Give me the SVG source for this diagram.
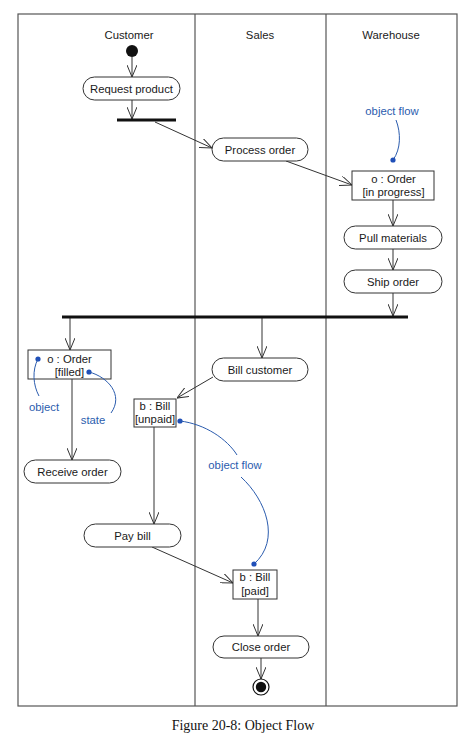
<svg xmlns="http://www.w3.org/2000/svg" width="474" height="745" viewBox="0 0 474 745">
<style>
text{font-family:"Liberation Sans",Arial,sans-serif;font-size:11.3px;fill:#1a1a1a;text-anchor:middle}
.note{fill:#2b5cae}
.cap{font-family:"Liberation Serif","Times New Roman",serif;font-size:14px;fill:#111}
.act{fill:#fff;stroke:#333;stroke-width:1}
.obj{fill:#fff;stroke:#333;stroke-width:1}
.edge{stroke:#333;stroke-width:1;fill:none;marker-end:url(#arr)}
.lane{stroke:#555;stroke-width:1.2;fill:none}
.bar{fill:#111}
.blue{stroke:#2b5cae;stroke-width:1;fill:none}
.dot{fill:#1f4fb8}
</style>
<defs>
<marker id="arr" viewBox="0 0 12 10" refX="12" refY="5" markerWidth="12" markerHeight="10" markerUnits="userSpaceOnUse" orient="auto">
<path d="M0,0 L12,5 L0,10" fill="none" stroke="#333" stroke-width="1"/>
</marker>
</defs>
<rect width="474" height="745" fill="#fff"/>
<g id="swimlanes">
<rect class="lane" x="18" y="14" width="439" height="692"/>
<line class="lane" x1="195" y1="14" x2="195" y2="706"/>
<line class="lane" x1="326" y1="14" x2="326" y2="706"/>
<text x="129" y="39">Customer</text>
<text x="260" y="39">Sales</text>
<text x="391" y="39">Warehouse</text>
</g>
<g id="connectors">
<line class="edge" x1="132" y1="57" x2="132" y2="77"/>
<line class="edge" x1="132" y1="100" x2="132" y2="119"/>
<line class="edge" x1="155" y1="122" x2="212" y2="148"/>
<line class="edge" x1="286" y1="161" x2="352" y2="185"/>
<line class="edge" x1="393" y1="200" x2="393" y2="226"/>
<line class="edge" x1="393" y1="249" x2="393" y2="270"/>
<line class="edge" x1="393" y1="293" x2="393" y2="316"/>
<line class="edge" x1="70" y1="318" x2="70" y2="350"/>
<line class="edge" x1="262" y1="318" x2="262" y2="358"/>
<line class="edge" x1="72" y1="379" x2="72" y2="460"/>
<line class="edge" x1="213" y1="377" x2="177" y2="398"/>
<line class="edge" x1="154" y1="427" x2="154" y2="524"/>
<line class="edge" x1="152" y1="547" x2="233" y2="583"/>
<line class="edge" x1="258" y1="599" x2="258" y2="636"/>
<line class="edge" x1="261" y1="658" x2="261" y2="679"/>
</g>
<g id="start"><circle cx="132" cy="51" r="6" fill="#111"/></g>
<g id="request-product"><rect class="act" x="83" y="77" width="97" height="23" rx="11.5"/><text x="131.5" y="92.5">Request product</text></g>
<g id="fork"><rect class="bar" x="117" y="118.5" width="59" height="3"/></g>
<g id="process-order"><rect class="act" x="212" y="138" width="96" height="23" rx="11.5"/><text x="260" y="153.5">Process order</text></g>
<g id="order-in-progress"><rect class="obj" x="352" y="171" width="82" height="29"/><text x="393.5" y="183">o : Order</text><text x="393.5" y="196">[in progress]</text></g>
<g id="note-object-flow-1"><text class="note" x="392" y="115">object flow</text><path class="blue" d="M396,120 C401,133 401,149 393,160"/><circle class="dot" cx="393" cy="160" r="2.6"/></g>
<g id="pull-materials"><rect class="act" x="344" y="226" width="98" height="23" rx="11.5"/><text x="393" y="241.5">Pull materials</text></g>
<g id="ship-order"><rect class="act" x="344" y="270" width="98" height="23" rx="11.5"/><text x="393" y="285.5">Ship order</text></g>
<g id="join"><rect class="bar" x="62" y="315.5" width="346" height="3"/></g>
<g id="order-filled"><rect class="obj" x="28" y="350" width="83" height="29"/><text x="69.5" y="363">o : Order</text><text x="69.5" y="376">[filled]</text>
<circle class="dot" cx="38" cy="359" r="2.6"/><circle class="dot" cx="89" cy="372" r="2.6"/></g>
<g id="note-object"><path class="blue" d="M38,359 C32,370 33,385 39,396"/><text class="note" x="44" y="411">object</text></g>
<g id="note-state"><path class="blue" d="M89,372 C108,377 124,395 111,413"/><text class="note" x="93" y="424">state</text></g>
<g id="receive-order"><rect class="act" x="24" y="460" width="97" height="23" rx="11.5"/><text x="72.5" y="475.5">Receive order</text></g>
<g id="bill-customer"><rect class="act" x="212" y="358" width="96" height="23" rx="11.5"/><text x="260" y="373.5">Bill customer</text></g>
<g id="bill-unpaid"><rect class="obj" x="134" y="399" width="42" height="28"/><text x="155" y="410">b : Bill</text><text x="155" y="423">[unpaid]</text><circle class="dot" cx="180" cy="421" r="2.6"/></g>
<g id="note-object-flow-2"><path class="blue" d="M180,421 C205,424 227,439 237,455"/><text class="note" x="235" y="469">object flow</text><path class="blue" d="M241,477 C266,500 281,540 254,564"/><circle class="dot" cx="254" cy="564" r="2.6"/></g>
<g id="pay-bill"><rect class="act" x="84" y="524" width="97" height="23" rx="11.5"/><text x="132.5" y="539.5">Pay bill</text></g>
<g id="bill-paid"><rect class="obj" x="233" y="570" width="44" height="29"/><text x="255" y="581">b : Bill</text><text x="255" y="595">[paid]</text></g>
<g id="close-order"><rect class="act" x="213" y="636" width="96" height="22" rx="11"/><text x="261" y="651">Close order</text></g>
<g id="final"><circle cx="261" cy="687" r="8" fill="#fff" stroke="#111" stroke-width="1.2"/><circle cx="261" cy="687" r="5.2" fill="#111"/></g>
<text class="cap" x="243" y="730">Figure 20-8: Object Flow</text>
</svg>
